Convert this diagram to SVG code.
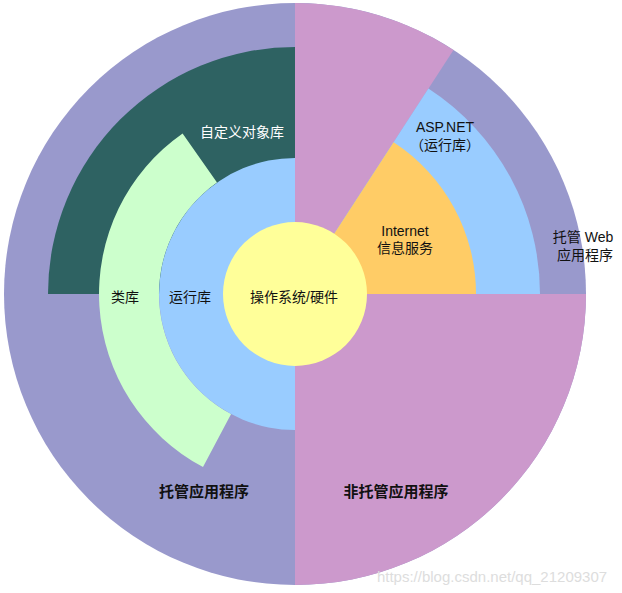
<svg xmlns="http://www.w3.org/2000/svg" width="622" height="593" viewBox="0 0 622 593">
<style>
text{font-family:"Liberation Sans","Noto Sans CJK SC",sans-serif;font-size:14px;fill:#111;text-anchor:middle}
.b{font-weight:bold;font-size:15px}
</style>
<rect width="622" height="593" fill="#fff"/>
<g id="managed-apps"><circle cx="295" cy="294" r="291" fill="#9999cc"/></g>
<g id="unmanaged-apps">
<path d="M295,294 L586,294 A291 291 0 0 1 295,585 Z" fill="#cc99cc"/>
<path d="M295,294 L295,3 A291 291 0 0 1 453.5,49.9 Z" fill="#cc99cc"/>
</g>
<g id="custom-lib"><path d="M295,294 L48,294 A247 247 0 0 1 295,47 Z" fill="#2e6262"/></g>
<g id="aspnet"><path d="M295,294 L428.4,88.5 A245 245 0 0 1 540,294 Z" fill="#99ccff"/></g>
<g id="iis"><path d="M295,294 L393.6,142.2 A181 181 0 0 1 476,294 Z" fill="#ffcc66"/></g>
<g id="class-lib"><path d="M182.6,133.4 A196 196 0 0 0 203,467 L231.1,414.1 A136 136 0 0 1 217,182.6 Z" fill="#ccffcc"/></g>
<g id="runtime"><path d="M295,158 A136 136 0 0 0 295,430 Z" fill="#99ccff"/></g>
<g id="os"><circle cx="295" cy="294" r="72" fill="#ffff99"/></g>
<g id="connectors"/>
<g id="labels">
<text x="242" y="137" style="fill:#fff">自定义对象库</text>
<text x="125" y="302">类库</text>
<text x="190" y="302">运行库</text>
<text x="294" y="302">操作系统/硬件</text>
<text x="445" y="132">ASP.NET</text>
<text x="445" y="150">（运行库）</text>
<text x="405" y="236">Internet</text>
<text x="405" y="253">信息服务</text>
<text x="583" y="242">托管 Web</text>
<text x="585" y="260">应用程序</text>
<text class="b" x="204" y="497">托管应用程序</text>
<text class="b" x="396" y="497">非托管应用程序</text>
<text x="492" y="582" style="fill:#ddd;font-size:15px">https://blog.csdn.net/qq_21209307</text>
</g>
</svg>
